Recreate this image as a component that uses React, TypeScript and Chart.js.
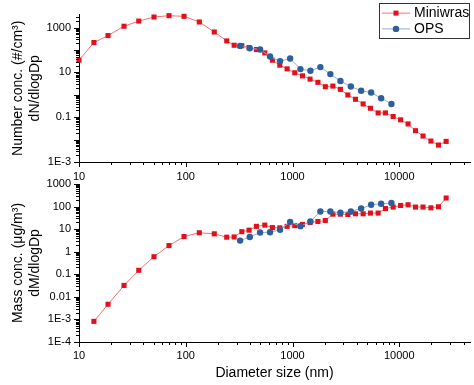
import React, { useEffect, useRef } from 'react';
import { Chart, registerables } from 'chart.js';

Chart.register(...registerables);

// ---- Data ----
const miniX = [10, 13.8, 18.7, 26.4, 36.3, 50.4, 69.7, 96.4, 134, 185, 242, 284, 335, 392, 459, 550, 648, 760, 890, 1050, 1240, 1460, 1730, 2030, 2390, 2810, 3300, 3890, 4590, 5370, 6340, 7420, 8770, 10300, 12100, 14200, 16700, 19800, 23300, 27500];
const miniNumber = [35, 215, 440, 1150, 1950, 2960, 3400, 3180, 1780, 635, 254, 163, 155, 128, 105, 74, 35, 21, 14.4, 9.6, 7.0, 5.0, 3.6, 2.3, 2.45, 1.75, 0.98, 0.63, 0.39, 0.25, 0.155, 0.155, 0.107, 0.076, 0.05, 0.025, 0.0144, 0.0086, 0.0057, 0.0083];
const miniMass = [null, 0.00082, 0.0047, 0.032, 0.15, 0.6, 1.87, 4.7, 6.9, 6.2, 4.4, 4.5, 7.7, 9.0, 13.3, 15.1, 11.7, 11.4, 13.3, 14.3, 16.2, 19.6, 21.8, 24.1, 46, 46, 44.6, 47.9, 47.9, 51.4, 51.4, 82, 95, 112, 120, 95, 95, 88, 98, 239];

const opsX = [323, 398, 497, 616, 765, 950, 1186, 1472, 1825, 2264, 2812, 3520, 4395, 5454, 6766, 8450];
const opsNumber = [152, 120, 105, 51, 32, 42, 14, 11.8, 17.2, 8.4, 4.1, 2.34, 1.52, 1.26, 0.7, 0.39];
const opsMass = [3.1, 4.5, 7.1, 7.3, 9.3, 21, 13.6, 22, 60.5, 60.5, 53, 60.5, 82, 120, 133, 143];

const xTickValues = [10, 100, 1000, 10000];
const xTickLabels = ['10', '100', '1000', '10000'];
const topYTickValues = [0.001, 0.1, 10, 1000];
const topYTickLabels = ['1E-3', '0.1', '10', '1000'];
const bottomYTickValues = [0.0001, 0.001, 0.01, 0.1, 1, 10, 100, 1000];
const bottomYTickLabels = ['1E-4', '1E-3', '0.01', '0.1', '1', '10', '100', '1000'];

const seriesNames = ['Miniwras', 'OPS'];
const xTitle = 'Diameter size (nm)';
const topYTitle = ['Number conc. (#/cm³)', 'dN/dlogDp'];
const bottomYTitle = ['Mass conc. (μg/m³)', 'dM/dlogDp'];

// ---- Styles ----
const FONT = "'Liberation Sans', Arial, sans-serif";
const RED = '#e2101c';
const RED_LINE = '#f27272';
const BLUE = '#2c5f9c';
const BLUE_LINE = '#8eb0d8';

const W = 474;
const H = 385;

function pts(xs: number[], ys: (number | null)[]) {
  const out: { x: number; y: number }[] = [];
  xs.forEach((x, i) => {
    const y = ys[i];
    if (y !== null && y !== undefined) out.push({ x, y });
  });
  return out;
}

function labelFor(values: number[], labels: string[]) {
  return (v: any) => {
    const n = Number(v);
    for (let i = 0; i < values.length; i++) {
      if (Math.abs(Math.log10(n) - Math.log10(values[i])) < 1e-6) return labels[i];
    }
    return '';
  };
}

function logTickValues(min: number, max: number) {
  const out: { v: number; major: boolean }[] = [];
  const e0 = Math.floor(Math.log10(min));
  const e1 = Math.ceil(Math.log10(max));
  for (let e = e0; e <= e1; e++) {
    for (let m = 1; m <= 9; m++) {
      const v = m * Math.pow(10, e);
      if (v >= min * 0.9999 && v <= max * 1.0001) out.push({ v, major: m === 1 });
    }
  }
  return out;
}

const tickPlugin = {
  id: 'logTicks',
  afterDraw(chart: any) {
    const ctx = chart.ctx;
    const ca = chart.chartArea;
    const xs = chart.scales.x;
    const ys = chart.scales.y;
    ctx.save();
    ctx.strokeStyle = '#000';
    ctx.lineWidth = 1;
    for (const t of logTickValues(xs.min, xs.max)) {
      const p = xs.getPixelForValue(t.v);
      const len = t.major ? 5 : 3;
      const px = Math.round(p) + 0.5;
      ctx.beginPath();
      ctx.moveTo(px, ca.bottom);
      ctx.lineTo(px, ca.bottom + len);
      ctx.stroke();
    }
    for (const t of logTickValues(ys.min, ys.max)) {
      const p = ys.getPixelForValue(t.v);
      const len = t.major ? 5 : 3;
      const py = Math.round(p) + 0.5;
      ctx.beginPath();
      ctx.moveTo(ca.left, py);
      ctx.lineTo(ca.left - len, py);
      ctx.stroke();
    }
    ctx.restore();
  },
};

function drawMarker(ctx: CanvasRenderingContext2D, kind: string, x: number, y: number) {
  if (kind === 'rect') {
    ctx.fillStyle = RED;
    ctx.fillRect(x - 2.5, y - 2.5, 5, 5);
  } else {
    ctx.fillStyle = BLUE;
    ctx.beginPath();
    ctx.arc(x, y, 3.2, 0, Math.PI * 2);
    ctx.fill();
  }
}

const legendPlugin = {
  id: 'boxLegend',
  afterDraw(chart: any, _args: any, opts: any) {
    if (!opts || !opts.show) return;
    const ctx = chart.ctx;
    const ca = chart.chartArea;
    const right = ca.right;
    const left = right - 91;
    const top = ca.top - 12;
    const h = 35;
    ctx.save();
    ctx.fillStyle = '#fff';
    ctx.fillRect(left, top, right - left, h);
    ctx.strokeStyle = '#333';
    ctx.lineWidth = 1;
    ctx.strokeRect(Math.round(left) + 0.5, Math.round(top) + 0.5, right - left - 1, h);
    const rows = [
      { name: seriesNames[0], line: RED_LINE, kind: 'rect' },
      { name: seriesNames[1], line: BLUE_LINE, kind: 'circle' },
    ];
    rows.forEach((r, i) => {
      const y = top + 10.5 + i * 15.8;
      ctx.strokeStyle = r.line;
      ctx.lineWidth = 1;
      ctx.beginPath();
      ctx.moveTo(left + 3, y);
      ctx.lineTo(left + 31, y);
      ctx.stroke();
      drawMarker(ctx, r.kind, left + 17, y);
      ctx.fillStyle = '#000';
      ctx.font = `14px ${FONT}`;
      ctx.textBaseline = 'middle';
      ctx.textAlign = 'left';
      ctx.fillText(r.name, left + 35, y + 0.5);
    });
    ctx.restore();
  },
};

function makeConfig(opts: {
  mini: (number | null)[];
  ops: number[];
  yMin: number;
  yMax: number;
  yValues: number[];
  yLabels: string[];
  yTitle: string[];
  padTop: number;
  padBottom: number;
  xHeight: number;
  xLabelPad: number;
  showXTitle: boolean;
  legend: boolean;
}): any {
  return {
    type: 'line',
    data: {
      datasets: [
        {
          label: seriesNames[0],
          data: pts(miniX, opts.mini),
          borderColor: RED_LINE,
          backgroundColor: RED,
          borderWidth: 1,
          pointStyle: 'rect',
          pointRadius: 3.6,
          pointBorderWidth: 0,
          pointBackgroundColor: RED,
          pointBorderColor: RED,
          clip: false,
          order: 1,
        },
        {
          label: seriesNames[1],
          data: pts(opsX, opts.ops),
          borderColor: BLUE_LINE,
          backgroundColor: BLUE,
          borderWidth: 1,
          pointStyle: 'circle',
          pointRadius: 3.2,
          pointBorderWidth: 0,
          pointBackgroundColor: BLUE,
          pointBorderColor: BLUE,
          clip: false,
          order: 0,
        },
      ],
    },
    options: {
      responsive: false,
      animation: false,
      devicePixelRatio: 1,
      layout: { padding: { left: 0, right: 3, top: opts.padTop, bottom: opts.padBottom } },
      plugins: {
        legend: { display: false },
        tooltip: { enabled: false },
        boxLegend: { show: opts.legend },
      },
      scales: {
        x: {
          type: 'logarithmic',
          min: 10,
          max: 46000,
          afterFit: (s: any) => {
            s.height = opts.xHeight;
          },
          afterBuildTicks: (s: any) => {
            s.ticks = xTickValues.map((v) => ({ value: v }));
          },
          grid: { display: true, drawOnChartArea: false, drawTicks: false },
          border: { display: true, color: '#000', width: 1 },
          ticks: {
            autoSkip: false,
            maxRotation: 0,
            padding: opts.xLabelPad,
            color: '#000',
            font: { family: FONT, size: 11 },
            callback: labelFor(xTickValues, xTickLabels),
          },
          title: {
            display: opts.showXTitle,
            text: xTitle,
            color: '#000',
            font: { family: FONT, size: 14 },
            padding: { top: 0, bottom: 3 },
          },
        },
        y: {
          type: 'logarithmic',
          min: opts.yMin,
          max: opts.yMax,
          afterFit: (s: any) => {
            s.width = 79;
          },
          afterBuildTicks: (s: any) => {
            s.ticks = opts.yValues.map((v) => ({ value: v }));
          },
          grid: { display: true, drawOnChartArea: false, drawTicks: false },
          border: { display: true, color: '#000', width: 1 },
          ticks: {
            autoSkip: false,
            padding: 8,
            color: '#000',
            font: { family: FONT, size: 11 },
            callback: labelFor(opts.yValues, opts.yLabels),
          },
          title: {
            display: true,
            text: opts.yTitle,
            color: '#000',
            font: { family: FONT, size: 14, lineHeight: 1.2 },
            padding: { top: 10, bottom: 0 },
          },
        },
      },
    },
    plugins: [tickPlugin, legendPlugin],
  };
}

export default function App() {
  const topRef = useRef<HTMLCanvasElement | null>(null);
  const botRef = useRef<HTMLCanvasElement | null>(null);

  useEffect(() => {
    if (!topRef.current || !botRef.current) return;
    const top = new Chart(
      topRef.current,
      makeConfig({
        mini: miniNumber,
        ops: opsNumber,
        yMin: 0.001,
        yMax: 3800,
        yValues: topYTickValues,
        yLabels: topYTickLabels,
        yTitle: topYTitle,
        padTop: 14,
        padBottom: H - 162 - 20,
        xHeight: 20,
        xLabelPad: 8,
        showXTitle: false,
        legend: true,
      })
    );
    const bottom = new Chart(
      botRef.current,
      makeConfig({
        mini: miniMass,
        ops: opsMass,
        yMin: 0.0001,
        yMax: 1000,
        yValues: bottomYTickValues,
        yLabels: bottomYTickLabels,
        yTitle: bottomYTitle,
        padTop: 184,
        padBottom: 0,
        xHeight: H - 342,
        xLabelPad: 7,
        showXTitle: true,
        legend: false,
      })
    );
    return () => {
      top.destroy();
      bottom.destroy();
    };
  }, []);

  const canvasStyle: React.CSSProperties = { position: 'absolute', left: 0, top: 0, width: W, height: H };
  return (
    <div style={{ position: 'fixed', left: 0, top: 0, width: W, height: H, background: '#fff' }}>
      <canvas ref={botRef} width={W} height={H} style={canvasStyle} />
      <canvas ref={topRef} width={W} height={H} style={canvasStyle} />
    </div>
  );
}
